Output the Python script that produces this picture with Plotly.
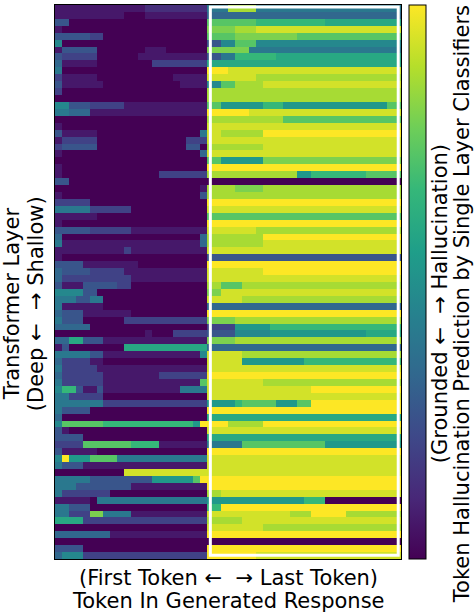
"""Single-layer hallucination classifier scores per token (heatmap).

Rows are transformer layers, columns are tokens of the generated response.
The white box marks the hallucinated span of the response.
Cell values were read off the reference figure as hex levels 0-F
(0 = grounded, F = hallucination), written as runs "level*count".
"""

import plotly.graph_objects as go

# ======================
# DATA
# ======================
N_EARLY = 22      # tokens before the boxed span
N_LATE = 28       # tokens inside the white box
N_LEVELS = 15     # hex level F -> 1.0

# tokens 0-21, one string per layer (top row first)
early_tokens = [
    "1*13 2*9", "1*10 0*3 1*9", "4*2 0*20", "1*1 0*21", "4*5 3*2 0*15",
    "7*1 0*21", "1*1 4*5 0*7 1*3 0*6", "4*1 3*5 0*6 1*10", "5*1 1*5 0*8 3*8",
    "6*1 0*21", "3*1 1*5 0*11 1*5", "4*1 1*6 0*11 1*4", "3*1 0*21",
    "0*22", "7*2 4*3 3*5 1*12", "6*2 5*3 1*17", "0*22", "1*1 0*21",
    "4*1 1*5 0*15 6*1", "1*1 3*5 0*13 3*3", "3*1 4*5 0*13 4*2 0*1",
    "1*1 0*20 5*1", "0*22", "1*1 0*21", "1*1 0*14 3*7", "4*2 0*20",
    "0*21 1*1", "1*1 0*20 4*1", "3*5 0*17", "6*5 3*6 0*11", "1*6 0*16",
    "1*1 0*21", "4*5 3*6 1*11", "5*1 0*20 5*1", "6*1 1*20 5*1",
    "1*10 3*1 1*11", "1*1 0*21", "4*4 1*8 0*10", "5*1 4*4 3*5 1*12",
    "5*1 3*10 1*11", "4*1 1*3 4*5 3*2 0*11", "7*4 4*2 0*16",
    "6*3 4*2 6*2 0*15", "6*1 1*6 0*15", "5*1 4*3 1*7 0*11",
    "6*1 4*3 0*6 3*12", "5*5 0*17", "0*13 1*1 0*3 3*5",
    "5*2 9*2 4*3 1*15", "1*1 4*1 0*8 9*12", "6*5 4*2 1*14 7*1",
    "5*1 3*4 1*2 0*15", "6*1 3*5 1*16", "5*1 3*6 1*8 3*7",
    "6*1 3*6 1*14 B*1", "7*1 A*2 4*1 1*2 4*1 1*11 6*4", "6*2 3*5 0*15",
    "6*7 3*15", "6*1 4*4 0*17", "5*1 0*21", "7*1 B*6 A*13 8*1 F*1",
    "4*1 1*1 0*20", "4*4 0*18", "3*4 B*7 A*4 1*7", "4*1 1*5 0*16",
    "7*1 F*1 8*3 B*4 6*13", "6*1 4*3 1*18", "0*10 E*12",
    "6*5 4*9 8*6 B*1 F*1", "6*3 4*8 1*11", "6*1 3*7 0*14", "1*5 0*1 6*16",
    "6*2 4*3 0*17", "6*2 3*3 C*2 6*4 1*11", "9*4 3*18", "0*22", "5*8 1*14",
    "0*22", "4*4 0*18", "5*1 7*3 3*18",
]

# tokens 22-49 (inside the box)
late_tokens = [
    "6*3 D*4 6*21", "5*28", "B*7 A*10 9*11", "C*4 D*3 E*21", "B*4 C*9 B*15",
    "4*2 7*2 B*3 7*21", "C*6 6*22", "4*2 6*2 A*6 9*18", "9*28", "F*3 E*25",
    "E*7 D*21", "7*2 B*2 D*4 E*20", "D*28", "D*28", "B*2 8*6 A*3 8*15 B*2",
    "F*6 E*22", "D*11 B*17", "E*28", "E*2 D*6 F*20", "E*28", "D*8 E*20",
    "E*28", "B*2 8*6 C*20", "F*28", "D*13 8*2 A*8 B*5", "0*28",
    "D*4 C*4 D*20", "D*28", "F*28", "E*28", "B*28", "F*28", "E*7 D*21",
    "D*8 F*20", "D*8 E*20", "E*28", "4*28", "F*28", "E*8 F*20", "E*28",
    "D*2 B*3 D*23", "C*2 E*26", "E*5 D*23", "5*28", "F*28", "C*4 D*24",
    "3*4 8*5 A*19", "4*4 7*5 8*14 9*5", "C*4 D*24", "5*28", "E*5 D*23",
    "E*5 8*9 A*14", "E*28", "F*28", "E*8 D*20", "E*15 F*13", "E*28",
    "8*4 A*1 B*5 8*3 B*2 F*13", "F*28", "9*28", "F*3 D*5 F*20", "E*28",
    "9*28", "6*5 B*12 8*11", "F*28", "E*28", "E*28", "E*28", "F*28", "F*28",
    "D*2 E*26", "8*14 A*3 0*11", "A*2 F*26", "E*12 D*3 F*5 D*8", "D*5 E*23",
    "E*8 D*20", "F*28", "0*28", "F*28", "F*7 E*21",
]


def decode(row, width):
    """Expand 'level*count' runs into a list of scores in [0, 1]."""
    cells = []
    for run in row.split():
        level, count = run.split("*")
        cells += [int(level, 16) / N_LEVELS] * int(count)
    if len(cells) != width:
        print("row width", len(cells), "!=", width, ":", row)
    return (cells + [cells[-1]] * width)[:width]


z = [decode(a, N_EARLY) + decode(b, N_LATE) for a, b in zip(early_tokens, late_tokens)]
n_layers = len(z)
n_tokens = N_EARLY + N_LATE

# ======================
# FIGURE
# ======================
FONT = dict(family="DejaVu Sans", size=21, color="black")

fig = go.Figure(go.Heatmap(
    z=z,
    x=list(range(n_tokens)),
    y=list(range(n_layers)),
    colorscale="Viridis",
    zmin=0,
    zmax=1,
    hoverinfo="skip",
    colorbar=dict(
        x=1.023, xanchor="left", xpad=0,
        y=0.5, yanchor="middle", len=1, ypad=0,
        thickness=17,
        outlinewidth=1, outlinecolor="black",
        showticklabels=False, ticks="",
    ),
))

# hallucinated span
fig.add_shape(
    type="rect", xref="x", yref="y",
    x0=N_EARLY - 0.05, x1=n_tokens - 0.9, y0=-0.2, y1=n_layers - 1.05,
    line=dict(color="white", width=3),
)

axis = dict(showticklabels=False, ticks="", showgrid=False, zeroline=False,
            showline=True, mirror=True, linecolor="black", linewidth=1)
fig.update_xaxes(range=[-0.5, n_tokens - 0.5], **axis)
fig.update_yaxes(range=[n_layers - 0.5, -0.5], **axis)

ARROWS = "\u2190 \u00a0\u2192"
labels = [
    # text, x (paper), y (paper), xshift, yshift, angle
    (f"(First Token {ARROWS} Last Token)", 0.5, 0, 0, -19, 0),
    ("Token In Generated Response", 0.5, 0, 0, -42, 0),
    ("Transformer Layer", 0, 0.46, -43, 0, -90),
    (f"(Deep {ARROWS} Shallow)", 0, 0.46, -19, 0, -90),
    (f"(Grounded {ARROWS} Hallucination)", 1, 0.46, 39, 0, -90),
    ("Token Hallucination Prediction by Single Layer Classifiers", 1, 0.46, 61, 0, -90),
]
for text, x, y, dx, dy, angle in labels:
    fig.add_annotation(
        text=text, xref="paper", yref="paper", x=x, y=y,
        xanchor="center", yanchor="middle", xshift=dx, yshift=dy,
        textangle=angle, showarrow=False, font=FONT,
    )

fig.update_layout(
    width=475, height=613,
    margin=dict(l=55, r=74, t=5, b=54),
    paper_bgcolor="white", plot_bgcolor="white",
    font=FONT,
    showlegend=False,
)

# drop the browser's default 8px body margin so the figure sits at (0, 0)
fig.write_html(
    "out.html",
    config={"displayModeBar": False},
    post_script="document.body.style.margin = '0';",
)
